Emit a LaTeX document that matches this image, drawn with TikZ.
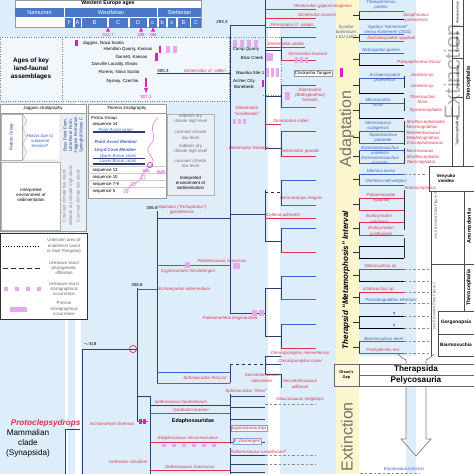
\documentclass[tikz,border=0pt]{standalone}
\usepackage{fontspec}
\setmainfont{Liberation Sans}
\usetikzlibrary{arrows.meta}
\definecolor{bgblue}{HTML}{DDEEFA}
\definecolor{hdrblue}{HTML}{4A78C9}
\definecolor{treeblue}{HTML}{2A3F73}
\definecolor{labred}{HTML}{E0304F}
\definecolor{labblue}{HTML}{3C5FC8}
\definecolor{magc}{HTML}{E21BC4}
\definecolor{pinkc}{HTML}{E8A8EE}
\definecolor{yelband}{HTML}{FBF6CC}
\definecolor{panelgray}{HTML}{E9EFF5}
\newcommand{\ftiny}{\fontsize{4.4}{5.2}\selectfont}
\newcommand{\fsmall}{\fontsize{5.6}{6.4}\selectfont}
\newcommand{\fmid}{\fontsize{7}{8.6}\selectfont}
\newcommand{\fbig}{\fontsize{8.2}{10}\selectfont}
\begin{document}
\begin{tikzpicture}[x=1pt,y=-1pt,
    every node/.style={inner sep=0.3pt},
    tr/.style={draw=treeblue, line width=1pt},
    rt/.style={draw=labred, line width=1pt},
    bt/.style={draw=labblue, line width=1pt},
    kt/.style={draw=black!80, line width=1pt},
    gd/.style={draw=black!45, line width=0.7pt, dash pattern=on 2.5pt off 2pt},
    rl/.style={text=labred, font=\ftiny\itshape, align=center},
    bl/.style={text=labblue, font=\ftiny\itshape, align=center},
    kl/.style={text=black, font=\ftiny, align=center},
    gl/.style={text=black!55, font=\ftiny, align=center},
    magbar/.style={fill=magc},
    pinkbar/.style={fill=pinkc}]
    \useasboundingbox (0,0) rectangle (474,474);
    \clip (0,0) rectangle (474,474);

    % ==========================================
    % Background bands
    % ==========================================
    \fill[bgblue] (0,0) rectangle (474,474);
    \fill[white] (65,100) rectangle (68,474);
    \fill[white] (75,100) rectangle (81,474);
    \fill[white] (268,25) rectangle (280,474);
    \fill[yelband] (336,0) rectangle (359,474);
    \fill[white] (416,0) rectangle (474,474);
    \fill[white] (359,356) rectangle (474,474);
    \fill[bgblue] (406,386) rectangle (416,474);

    % Big grey extinction word (right)
    \node[rotate=90, text=black!30, font=\fontsize{22}{22}\selectfont] (extinctR) at (452,72) {Extinction};
    % Yellow band words
    \node[rotate=90, text=black!55, font=\fontsize{16}{16}\selectfont] (adapt) at (347,129) {Adaptation};
    \node[rotate=90, font=\fontsize{8}{8}\selectfont\bfseries\itshape] (tmi) at (346,280) {Therapsid “Metamorphosis” Interval};
    \node[rotate=90, anchor=west, text=black!55, font=\fontsize{16}{16}\selectfont] (extinctL) at (347,472) {Extinction};

    % ==========================================
    % Header: Western Europe ages
    % ==========================================
    \draw[black!40, fill=white] (15,0) rectangle (201,27.5);
    \node[font=\fontsize{5.2}{6}\selectfont\bfseries] (weage) at (108,3.4) {Western Europe ages};
    \fill[hdrblue] (15,7.5) rectangle (64,17);
    \fill[hdrblue] (65,7.5) rectangle (157,17);
    \fill[hdrblue] (158,7.5) rectangle (201,17);
    \node[white, font=\fsmall] (namur) at (39.5,12.4) {Namurian};
    \node[white, font=\fsmall] (westf) at (111,12.4) {Westfalian};
    \node[white, font=\fsmall] (stef) at (179.5,12.4) {Stefanian};
    \foreach \xa/\xb/\lab in {65/73/y, 74.5/80.5/A, 82/107/B, 108.5/128/C, 129.5/147/D,
        148.5/157/c, 158.5/166/b, 167.5/176/s, 177.5/189.5/B, 191/201/C}{
        \fill[hdrblue] (\xa,18) rectangle (\xb,27.5);
        \node[white, font=\fsmall] at ({(\xa+\xb)/2},22.8) {\lab};
    }
    % Age marks
    \foreach \xm/\age in {108/313.7, 141/308, 153/306}{
        \fill[magc] (\xm-2,31.5) -- (\xm+2,31.5) -- (\xm,27.5) -- cycle;
        \node[text=magc, font=\ftiny] at (\xm,34.5) {\age};
    }

    % ==========================================
    % Ages of key land-faunal assemblages
    % ==========================================
    \fill[white!55!bgblue] (0,37) rectangle (229,101);
    \draw[black!50, dotted] (0,37) rectangle (229,101);
    \draw[black!50, dotted] (62,37) -- (62,101);
    \node[font=\fontsize{6.4}{8}\selectfont\bfseries, align=center] (agesbox) at (31,69) {Ages of key\\land-faunal\\assemblages};
    \node[kl, anchor=west] (jog) at (82,43) {Joggins, Nova Scotia};
    \node[kl, anchor=west] (ham) at (103,49.5) {Hamilton Quarry, Kansas};
    \node[kl, anchor=west] (gar) at (115,57) {Garnett, Kansas};
    \node[kl, anchor=west] (dan) at (91,64.5) {Danville Locality, Illinois};
    \node[kl, anchor=west] (flo) at (98,72.5) {Florens, Nova Scotia};
    \node[kl, anchor=west] (nyr) at (106,81) {Nyrany, Czechia};
    \fill[magc] (75,40) rectangle (77.5,46);
    \fill[magc] (155,53) rectangle (157.5,60.5);
    \fill[magc] (158.5,46) rectangle (160.5,52.5);
    \fill[pinkc] (166,46) rectangle (169.5,52.5);
    \fill[pinkc] (173,46) rectangle (176.5,52.5);
    \fill[magc] (144.5,77.5) rectangle (147,87);
    \fill[magc] (144,88) -- (148,88) -- (146,93) -- cycle;
    \node[text=magc, font=\ftiny] (a3071) at (146,96.5) {307.1};
    \node[kl] (a3053) at (163,71) {305.3};
    % Texas assemblages
    \draw[black!45, dotted] (229,37) -- (281,37) -- (281,95) -- (262,95);
    \foreach \xb in {233,240,247,254}{\fill[pinkc] (\xb,40) rectangle (\xb+4,47);}
    \node[kl] (camp) at (246,49.5) {Camp Quarry};
    \node[kl] (briar) at (252,57.5) {Briar Creek};
    \fill[pinkc] (266,53) rectangle (273,61);
    \node[kl] (wauri) at (250,73) {Waurika Site 1};
    \foreach \xb in {266,271,276}{\fill[pinkc] (\xb,68) rectangle (\xb+3,77);}
    \node[kl] (archer) at (244,84) {Archer City\\Bonebeds};
    \fill[magc] (262,80) rectangle (264,87);
    \node[kl, draw=black!40, fill=white, inner sep=1.2pt] (chick) at (313,73) {Chickasha Tongue};
    \fill[magc] (340,68) rectangle (342.5,77);

    % ==========================================
    % Joggins stratigraphy
    % ==========================================
    \draw[black!40, fill=panelgray] (0,104) rectangle (86,231);
    \draw[black!40, fill=white] (0,104) rectangle (86,113);
    \node[kl] (joghead) at (43,108.5) {Joggins stratigraphy};
    \draw[black!30, fill=white] (1,114) rectangle (22,160);
    \node[gl, rotate=90, text=labblue!70!black] (mabou) at (11.5,137) {Mabou Group};
    \draw[black!30, fill=white] (23,114) -- (60,114) -- (60,160) -- (23,160)
        -- (27,152) -- (23,144) -- (27,136) -- (23,128) -- (27,121) -- cycle;
    \node[bl, font=\ftiny] (hiatus) at (40,141) {Hiatus due to\\subaerial\\erosion?};
    \foreach \xf/\fm in {65/Boss Point Form., 70.5/Little River Form., 76/Joggins Formation, 81.5/Springhill Mines F.}{
        \node[rotate=90, text=labblue!70!black, font=\ftiny] at (\xf,135) {\fm};
    }
    \draw[black!30, fill=white] (1,162) rectangle (60,230);
    \node[kl] (jogenv) at (31,195) {Interpreted\\environment of\\sedimentation};
    \foreach \xf/\fm in {64/Coal wet climate low stand, 71/redbeds dry climate high stand, 78/Coal wet climate low stand}{
        \node[rotate=90, text=black!45, font=\ftiny] at (\xf,196) {\fm};
    }

    % ==========================================
    % Florens stratigraphy
    % ==========================================
    \draw[black!40, fill=white] (88,104) rectangle (166,198);
    \draw[black!40] (88,113) -- (166,113);
    \node[kl] (flohead) at (127,108.5) {Florens stratigraphy};
    \node[kl] (pictou) at (104,118) {Pictou Group};
    \node[kl, anchor=west] (seq14) at (92,124) {sequence 14};
    \node[bl, anchor=west] (pacs) at (98,129.5) {Point Aconi seam};
    \draw[treeblue, line width=1.2pt] (93,132) -- (145,132);
    \node[bl, anchor=west, font=\ftiny\bfseries\itshape] (pacm) at (94,142) {Point Aconi Member};
    \node[bl, anchor=west, font=\ftiny\bfseries\itshape] (lcm) at (94,150.5) {Lloyd Cove Member};
    \node[bl, anchor=west] (ubs) at (99,156) {Upper Bonar seam};
    \draw[treeblue, line width=1.2pt] (93,158.5) -- (145,158.5);
    \node[bl, anchor=west] (lbs) at (99,161.5) {Lower Bonar seam};
    \draw[treeblue, line width=1.2pt] (93,164) -- (145,164);
    \foreach \ys/\sq in {170/13, 177/10, 184/7-9, 191/5}{
        \draw[black!20] (88,\ys-3.5) -- (166,\ys-3.5);
        \node[kl, anchor=west] at (92,\ys) {sequence \sq};
    }
    % sea level curve
    \draw[pinkc!80!magc, line width=0.7pt] (158,118) .. controls (145,128) and (160,136) .. (150,145)
        .. controls (142,152) and (160,160) .. (150,166) .. controls (140,173) and (145,180) .. (133,184)
        .. controls (128,187) and (128,190) .. (126,192);
    \draw[magc, line width=0.6pt] (150,165) circle (2.6);
    \draw[pinkc!80!magc, line width=0.6pt] (143,177) circle (2.2);
    \draw[pinkc!80!magc, line width=0.6pt] (133,184) circle (2.2);
    \draw[pinkc!80!magc, line width=0.6pt] (126,191) circle (2.2);
    \node[text=magc, font=\ftiny] (low) at (146,171) {low};
    \node[text=magc, font=\ftiny] (high) at (161,172) {high};
    % environment column
    \draw[black!30, fill=panelgray] (167,114) rectangle (214,195);
    \node[gl] (env1) at (190.5,119) {redbeds dry\\climate high level};
    \node[gl] (env2) at (190.5,135) {coal-wet climate\\low level};
    \node[gl] (env3) at (190.5,148.5) {redbeds dry\\climate high level};
    \node[gl] (env4) at (190.5,163.5) {coal-wet climate\\low level};
    \node[kl] (env5) at (190.5,183) {Interpreted\\environment of\\sedimentation};

    % ==========================================
    % Legend
    % ==========================================
    \draw[black!80, fill=white, line width=0.6pt] (0,233) rectangle (87,319);
    \draw[black, dotted, line width=0.7pt] (3,246) -- (40,246);
    \node[gl, text=black!60] (leg1) at (64,246) {Unknown area of\\endemism (west\\or east Pangaea)};
    \draw[black!80, line width=0.9pt, dash pattern=on 5pt off 3pt] (3,268) -- (40,268);
    \node[gl, text=black!60] (leg2) at (64,268) {Unknown exact\\phylogenetic\\affiliation};
    \foreach \xq in {4,15,26,37}{\fill[pinkc] (\xq,287) rectangle (\xq+4,291);}
    \node[gl, text=black!60] (leg3) at (64,289) {Unknown exact\\stratigraphical\\occurrence};
    \fill[pinkc] (10,307) rectangle (27,311.5);
    \node[gl, text=black!60] (leg4) at (64,308.5) {Precise\\stratigraphical\\occurrence};

    % ==========================================
    % Basal synapsid tree (left)
    % ==========================================
    \draw[tr] (65,429) -- (65,474);
    \draw[tr] (65,429) -- (80,429);
    \node[text=labred, font=\fbig\bfseries\itshape, anchor=east] (proto) at (81,423) {Protoclepsydrops};
    \node[font=\fbig, align=center] (mamm) at (28,443) {Mammalian\\clade\\(Synapsida)};
    \draw[tr] (82,349) -- (82,474);
    \node[kl, anchor=west] (a318) at (83,344) {$\sim$318};
    \draw[tr] (82,349) -- (137,349);
    \draw[labred, line width=0.7pt] (133,349) circle (3.6);
    \draw[tr] (137,288) -- (137,421);
    \node[kl] (a3088) at (137,284.5) {308.8};
    \draw[bt] (137,289) -- (157,289);
    \node[rl, anchor=west] (echm) at (158,289) {Echmerpeton intermedium};
    \draw[tr] (157,211) -- (157,383);
    \node[kl] (a3066) at (152,207.5) {306.6};
    \draw[tr] (157,218) -- (230,218);
    \node[rl] (hapt) at (182,210) {Haptodus (“Eohaptodus”)\\garnettensis};
    \draw[rt] (157,265) -- (230,265);
    \fill[pinkc] (185,262) rectangle (190,268);
    \fill[pinkc] (233,263) rectangle (240,269);
    \node[rl] (pant) at (222,261) {Pantelosaurus saxonicus};
    \node[rl] (crypt) at (188,271) {Cryptovenator hirschbergeri};
    \draw[bt] (157,372) -- (230,372);
    \draw[rt] (157,383) -- (230,383);
    \node[rl] (sphf) at (205,378) {Sphenacodon ferocior};
    \draw[rt] (137,421) -- (148,421);
    \foreach \xb in {139,143}{\fill[magc] (\xb,418.5) rectangle (\xb+2.5,423.5);}
    \node[rl, anchor=east] (arch) at (135,424.5) {Archaeothyris florensis};

    % Edaphosauridae
    \draw[tr] (137,396) -- (150,396);
    \draw[tr] (150,396) -- (150,474);
    \draw[tr] (150,405) -- (230,405);
    \node[rl] (ianth) at (181,401.5) {Ianthasaurus hardestiorum};
    \draw[rt] (150,413) -- (230,413);
    \node[rl] (gord) at (191,409.5) {Gordodon kraineri};
    \node[font=\fontsize{5.4}{6}\selectfont\bfseries] (edaph) at (193,421) {Edaphosauridae};
    \draw[rt] (150,442) -- (230,442);
    \node[rl] (ednov) at (188,438.5) {Edaphosaurus novomexicanus};
    \foreach \xb in {162,172,182,192,202,212}{\fill[pinkc] (\xb,444) rectangle (\xb+4,446.5);}
    \draw[rt] (150,470) -- (230,470);
    \node[rl] (dath) at (190,466.5) {Datheosaurus macrourus};
    \node[rl] (ianthodon) at (128,462) {Ianthodon schultzei};
    \draw[tr] (230,394) -- (230,444);
    \foreach \ye in {396,407,419,429,442}{\draw[tr] (230,\ye) -- (265,\ye);}
    \node[rl, draw=labblue!60, fill=white!50!bgblue, inner sep=0.8pt] (lupeo) at (249,428) {Lupeosaurus kayi};
    \node[rl, draw=labblue!60, fill=white!50!bgblue, inner sep=0.8pt] (eboan) at (247,441) {E. boanerges};
    \draw[gd] (265,404) -- (316,404);
    \node[rl] (glauc) at (300,399.5) {Glaucosaurus megalops};
    \draw[tr] (230,448) -- (230,474);
    \foreach \ye in {455,464,472}{\draw[tr] (230,\ye) -- (265,\ye);}
    \node[rl] (ruth) at (258,451.5) {Ruthenosaurus russellorum?};
    \foreach \ye in {455,464}{\draw[gd] (265,\ye) -- (316,\ye);}
    \node[bl] (ennat) at (404,469.5) {Ennatosaurus tecton};
    \draw[gd] (360,473) -- (420,473);

    % ==========================================
    % Sphenacodontid tree (Dimetrodon clade)
    % ==========================================
    \draw[tr] (157,73) -- (230,73);
    \node[rl] (dmil) at (205,70.5) {Dimetrodon cf. milleri};
    \draw[tr] (230,25) -- (230,313);
    \node[kl] (a2933) at (222,21.5) {293.3};
    \draw[tr] (230,25) -- (265,25);
    \draw[tr] (265,0) -- (265,150);
    \draw[rt] (265,9.5) -- (316,9.5);
    \node[rl] (dgig) at (323,6) {Dimetrodon giganhomogenes};
    \draw[rt] (265,18) -- (316,18);
    \node[rl] (dloo) at (317,15) {Dimetrodon loomisi};
    \draw[rt] (265,27.5) -- (316,27.5);
    \node[rl] (dcfn) at (292,24.5) {Dimetrodon cf. natalis};
    \draw[bt] (281,37) -- (316,37);
    \draw[tr] (281,37) -- (281,60);
    \draw[rt] (281,60) -- (316,60);
    \draw[tr] (265,50) -- (281,50);
    \draw[rt] (265,47) -- (305,47);
    \node[rl] (dnat) at (286,44) {Dimetrodon natalis};
    \node[rl] (dteu) at (308,53.5) {Dimetrodon teutonis};
    \foreach \xb in {295,300,305}{\fill[pinkc] (\xb,57) rectangle (\xb+3,63);}
    \draw[bt] (281,85) -- (316,85);
    \draw[tr] (281,85) -- (281,107);
    \draw[rt] (281,107) -- (316,107);
    \draw[tr] (265,96) -- (281,96);
    \node[rl] (dbor) at (310,95) {Dimetrodon\\(Bathygnathus)\\borealis};
    \fill[pinkc] (285,92) rectangle (290,100);
    \node[rl] (docc) at (247,111) {Dimetrodon\\“occidentalis”};
    \draw[rt] (265,124) -- (281,124);
    \node[rl] (dmill) at (291,121) {Dimetrodon milleri};
    \foreach \xb in {233,238,243}{\fill[pinkc] (\xb,119) rectangle (\xb+3,124);}
    \draw[bt] (281,131) -- (316,131);
    \draw[tr] (281,131) -- (281,156);
    \draw[rt] (281,156) -- (316,156);
    \draw[tr] (265,148) -- (281,148);
    \node[rl] (dgra) at (300,151.5) {Dimetrodon grandis};
    \node[rl] (dlim) at (249,148) {Dimetrodon limbatus};
    % Tetraceratops and Cutleria
    \draw[tr] (230,214) -- (265,214);
    \draw[tr] (265,190) -- (265,241);
    \draw[kt, dashed] (265,192) -- (281,192);
    \draw[bt] (281,180) -- (316,180);
    \draw[tr] (281,180) -- (281,205);
    \draw[rt] (281,205) -- (316,205);
    \node[rl] (tetra) at (301,198) {Tetraceratops insignis};
    \draw[rt] (265,218) -- (316,218);
    \node[rl] (cutl) at (283,214.5) {Cutleria wilmarthi};
    \draw[bt] (281,228) -- (316,228);
    \draw[tr] (281,228) -- (281,252);
    \draw[rt] (281,252) -- (316,252);
    \draw[tr] (265,241) -- (281,241);
    % Palaeohatteria branch
    \draw[tr] (230,313) -- (265,313);
    \foreach \xb in {252,259}{\fill[pinkc] (\xb,310) rectangle (\xb+5,316);}
    \node[rl] (palae) at (230,318.5) {Palaeohatteria longicaudata};
    \draw[tr] (265,288) -- (265,336);
    \draw[tr] (265,288) -- (281,288);
    \draw[tr] (265,336) -- (281,336);
    \draw[bt] (281,276) -- (316,276);
    \draw[tr] (281,276) -- (281,299);
    \draw[rt] (281,299) -- (316,299);
    \draw[bt] (281,324) -- (316,324);
    \draw[tr] (281,324) -- (281,348);
    \draw[rt] (281,348) -- (316,348);
    \node[rl] (cnin) at (300,353) {Ctenospondylus ninevehensis};
    % Sphenacodon / Ctenospondylus
    \draw[tr] (230,364) -- (230,383);
    \draw[kt, dashed] (230,364) -- (265,364);
    \draw[tr] (265,356) -- (265,374);
    \foreach \ye in {356,364,374}{\draw[tr] (265,\ye) -- (281,\ye);}
    \node[rl] (ccas) at (300,361) {Ctenospondylus casei};
    \draw[tr] (281,374) -- (281,388);
    \node[rl] (secob) at (262,378) {Secodontosaurus\\obtusidens};
    \node[rl] (secwi) at (300,384) {Secodontosaurus\\willistoni};
    \node[rl] (sphfx) at (246,391.5) {Sphenacodon “ferox”};

    % ==========================================
    % Therapsid clades (right)
    % ==========================================
    \foreach \ya/\yb/\ca/\cb in {11/19/labblue/black, 34/41/labblue/labred, 53/65/labblue/black,
        78/93/labblue/black, 103/118/labblue/black, 131/143/labblue/labblue, 150/163/labblue/labblue,
        174/185/labblue/labblue, 198/210/labred/labred, 222/235/labred/labred, 246/258/black/black,
        269/281/labred/black, 292/303/labred/labblue, 316/328/black/black, 341/353/labblue/labred}{
        \draw[kt] (353,{(\ya+\yb)/2}) -- (359,{(\ya+\yb)/2});
        \draw[kt] (359,\ya) -- (359,\yb);
        \draw[draw=\ca, line width=1pt] (359,\ya) -- (404,\ya);
        \draw[draw=\cb, line width=1pt] (359,\yb) -- (404,\yb);
    }
    % right-hand sub-brackets
    \foreach \ya/\yb in {76/88, 98/111, 121/145, 148/164, 190/230, 238/258}{
        \draw[kt] (404,\ya) -- (404,\yb);
    }
    \foreach \ye in {269,281,292,303,316,328,341,353}{\draw[gd] (404,\ye) -- (432,\ye);}
    \draw[gd] (404,174) -- (426,174);
    \node[bl] (titan) at (381,5) {Titanophoneus\\potens};
    \node[rl] (sino) at (416,18) {Sinophoneus\\yumenensis};
    \node[bl] (syb) at (346,32) {Syodon\\biarmicum\\LSU 140?};
    \node[bl] (sykam) at (388,30) {Syodon “kammereri”\\sensu Kammerer (2011)};
    \node[rl] (austr) at (391,38) {Australosyodon nyaphuli};
    \node[bl] (noto) at (381,50) {Notosyodon gusevi};
    \node[rl] (pamp) at (419,62) {Pampaphoneus biccai};
    \node[bl] (archs) at (385,77.5) {Archaeosyodon\\praeventor};
    \node[rl, anchor=west] (jonk1) at (410,75.5) {Jonkeria sp.};
    \node[rl, anchor=west] (jonk2) at (410,86) {Jonkeria sp.};
    \node[bl] (micro) at (378,102.5) {Microsyodon\\orlovi};
    \node[rl, anchor=west] (titsu) at (409,99.5) {Titanosuchus\\ferox};
    \node[rl, anchor=west] (styra) at (409,110.5) {Styracocephalus};
    \node[bl] (ulemo) at (378,125.5) {Ulemosaurus\\svijagensis};
    \node[bl] (tapin) at (383,137.5) {Tapinocaninus\\pamelae};
    \node[rl, anchor=west, align=left] (tapr) at (406,133) {Struthiocephaloides\\Moschognathus\\Riebeeckosaurus\\Delphinognathus\\Criocephalosaurus};
    \node[bl] (estur) at (380,150.5) {Estemmenosuchus\\uralensis};
    \node[bl] (estmi) at (380,160.5) {Estemmenosuchus\\mirabilis};
    \node[rl, anchor=west, align=left] (tapr2) at (406,157) {Mormosaurus\\Struthiocephalus\\Taurocephalus};
    \node[bl] (ulemi) at (381,171) {Ulemica invisa};
    \node[bl] (otsh) at (386,181.5) {Otsheria netzvetajevi};
    \node[rl, anchor=west] (anoce) at (404,188) {Anomocephalus};
    \node[rl] (patr) at (381,198) {Patranomodon\\nyaphuli};
    \node[rl] (eoel) at (379,219) {Eodicynodon\\oelofseni};
    \node[rl] (eoos) at (381,231) {Eodicynodon\\oosthuizeni};
    \node[rl] (glan) at (381,266.5) {Glanosuchus sp.};
    \node[rl] (ictid) at (379,289) {Ictidosuchus sp.};
    \node[bl] (poros) at (391,300.5) {Porosteognathus efremovi};
    \node[kl] (q1) at (394,313.5) {?};
    \node[kl] (q2) at (394,325.5) {?};
    \node[bl] (biarm) at (384,338.5) {Biarmosuchus tener};
    \node[rl] (pachy) at (383,350) {Pachydectes elsi};

    % ==========================================
    % Clade column (far right)
    % ==========================================
    \draw[black!70, line width=0.5pt] (452,0) -- (452,166);
    \draw[black!70, line width=0.5pt] (463,0) -- (463,166);
    \foreach \ys in {26,58,97}{\draw[black!70, line width=0.5pt] (452,\ys) -- (463,\ys);}
    \node[rotate=90, font=\fontsize{3.4}{4}\selectfont] (anteo) at (457.5,13) {Anteosaurinae};
    \node[rotate=90, font=\fontsize{3.6}{4}\selectfont] (syodo) at (457.5,42) {Syodontinae};
    \node[rotate=90, font=\fontsize{3.6}{4}\selectfont] (titsd) at (457.5,77.5) {Titanosuchidae};
    \node[rotate=90, font=\fontsize{3.6}{4}\selectfont] (tapsd) at (457.5,131) {Tapinocephalidae};
    \node[rotate=90, font=\fontsize{5.4}{6}\selectfont\bfseries] (dino) at (468.5,83) {Dinocephalia};
    \draw[black!70, line width=0.5pt] (429,166) -- (474,166);
    \draw[black!70, line width=0.5pt] (429,191) -- (474,191);
    \draw[black!70, line width=0.5pt] (429,166) -- (429,191);
    \node[font=\fontsize{4.6}{5.4}\selectfont\bfseries, align=center] (veny) at (446,178.5) {Venyuko\\vioidea};
    \draw[black!70, line width=0.5pt] (464,191) -- (464,311);
    \node[rotate=90, font=\fontsize{5.4}{6}\selectfont\bfseries] (anomo) at (469,226) {Anomodontia};
    \draw[black!70, line width=0.5pt] (431,191) -- (431,356);
    \node[rotate=90, text=black!60, font=\fontsize{3.8}{4}\selectfont\itshape] (edf2) at (436,216) {see Extended Data Figure 2};
    \draw[black!70, line width=0.5pt] (431,264) -- (474,264);
    \node[rotate=90, font=\fontsize{5.4}{6}\selectfont\bfseries] (thero) at (469,287.5) {Therocephalia};
    \node[rotate=90, text=black!60, font=\fontsize{3.8}{4}\selectfont\itshape] (edf1) at (434.5,306) {see Extended Data Figure 1};
    \draw[black!70, fill=white, line width=0.5pt] (438,311) rectangle (474,334);
    \node[font=\fontsize{4.8}{5.4}\selectfont\bfseries] (gorg) at (456,322.5) {Gorgonopsia};
    \draw[black!70, fill=white, line width=0.5pt] (438,334) rectangle (474,356);
    \node[font=\fontsize{4.8}{5.4}\selectfont\bfseries] (biarmc) at (456,345) {Biarmosuchia};

    % ==========================================
    % Therapsida / Pelycosauria and arrows
    % ==========================================
    \draw[black!60, fill=yelband!70!white] (334,364) rectangle (359,386);
    \node[font=\fontsize{3.9}{4.6}\selectfont\bfseries, align=center] (olson) at (346.5,375) {Olson's\\Gap};
    \draw[black!60, fill=white] (359,364) rectangle (474,375);
    \draw[black!60, fill=white] (359,375) rectangle (474,386);
    \node[font=\fbig\bfseries] (thera) at (416,369.5) {Therapsida};
    \node[font=\fbig\bfseries] (pelyc) at (416,380.5) {Pelycosauria};
    \draw[black!50, line width=0.7pt] (406,364) -- (406,360) .. controls (402,358) .. (398,354);
    \draw[black!50, line width=0.7pt] (426,364) -- (426,360) .. controls (430,358) .. (434,354);
    \draw[black!50, line width=0.7pt] (406,386) -- (406,439) -- (401,439) -- (416,456)
        -- (431,439) -- (426,439) -- (426,386);
\end{tikzpicture}
\end{document}
